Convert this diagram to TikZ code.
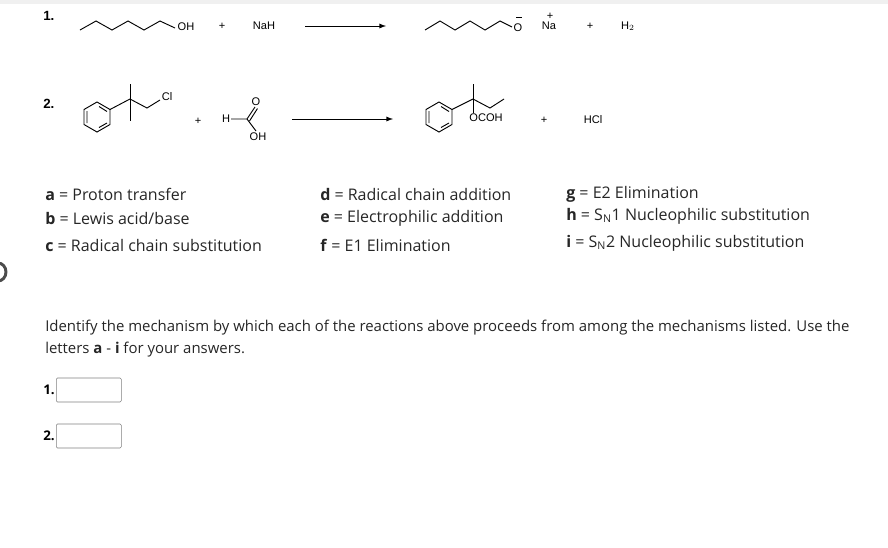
\documentclass[tikz,border=0pt]{standalone}
\usepackage{fontspec}
\setmainfont{Open Sans}
\newfontfamily\chem{Liberation Sans}
\begin{document}
\begin{tikzpicture}[x=0.75pt,y=-0.75pt,
  txt/.style={anchor=west,inner sep=0,font=\fontsize{11.2}{13}\selectfont,text=black!85},
  mech/.style={txt,font=\fontsize{12}{14}\selectfont},
  lab/.style={inner sep=0.5pt,font=\chem\fontsize{8.3}{10}\selectfont},
  num/.style={anchor=west,inner sep=0,font=\chem\bfseries\fontsize{10}{12}\selectfont},
  bond/.style={line width=0.7pt},
  rxn/.style={line width=0.7pt,-latex},
  ansbox/.style={draw=black!50,rounded corners=1pt,minimum width=48.75pt,minimum height=18pt,anchor=west,inner sep=0}]
\useasboundingbox (0,0) rectangle (888,547);
\fill[black!6] (0,0) rectangle (888,4);
\draw[line width=2.2pt,black!70] (-2,281) arc (90:-90:8 and 9);
% reaction 1
\node[num] (n1) at (43,16) {1.};
\draw[bond] (80,30)--(96,21)--(112,30)--(128,21)--(144,30)--(160,21)--(175,28);
\node[lab] (oh1) at (186,27) {OH};
\node[lab] (p1) at (222,26) {+};
\node[lab] (nah) at (264,26) {NaH};
\coordinate (a1s) at (305,26); \coordinate (a1e) at (386,26);
\draw[rxn] (a1s)--(a1e);
\draw[bond] (425,30)--(440,21)--(455,30)--(470,21)--(485,30)--(500,21)--(512,27);
\node[lab] (om) at (518,28) {O};
\draw[line width=0.6pt] (516,17)--(522,17);
\node[lab] (na) at (549,26) {Na};
\node[lab] at (550,16) {+};
\node[lab] (p2) at (590,26) {+};
\node[lab] (h2) at (628,26) {H$_2$};
% reaction 2
\node[num] (n2) at (43,104) {2.};
\draw[bond] (97,102)--(110,109.5)--(110,124.5)--(97,132)--(84,124.5)--(84,109.5)--cycle;
\draw[bond] (99,106.5)--(107,111.5) (107,123)--(99,127.5) (87,111)--(87,123);
\draw[bond] (110,109.5)--(130,99);
\draw[bond] (130,84)--(130,121);
\draw[bond] (130,99)--(147,108)--(160,100);
\node[lab] (cl) at (167,97) {Cl};
\node[lab] (p3) at (198,121) {+};
\node[lab] (h) at (226,119) {H};
\draw[bond] (231,119)--(247,119)--(255,107) (247,119)--(256,131);
\draw[bond] (249.5,121)--(257.5,108.5);
\node[lab] (o2) at (256,102) {O};
\node[lab] (oh2) at (258,137) {OH};
\coordinate (a2s) at (292,119); \coordinate (a2e) at (393,119);
\draw[rxn] (a2s)--(a2e);
\draw[bond] (439,102)--(452,109.5)--(452,124.5)--(439,132)--(426,124.5)--(426,109.5)--cycle;
\draw[bond] (441,106.5)--(449,111.5) (449,123)--(441,127.5) (429,111)--(429,123);
\draw[bond] (452,109.5)--(473,99);
\draw[bond] (473,84)--(473,113);
\draw[bond] (473,99)--(490,108)--(504,99);
\node[lab] (ocoh) at (486,118) {OCOH};
\node[lab] (p4) at (544,120) {+};
\node[lab] (hcl) at (593,120) {HCl};
% mechanisms
\node[mech] (a) at (45,194) {\textbf{a} = Proton transfer};
\node[mech] (b) at (45,218) {\textbf{b} = Lewis acid/base};
\node[mech] (c) at (45,245) {\textbf{c} = Radical chain substitution};
\node[mech] (d) at (320,194) {\textbf{d} = Radical chain addition};
\node[mech] (e) at (320,218) {\textbf{e} = Electrophilic addition};
\node[mech] (f) at (320,245) {\textbf{f} = E1 Elimination};
\node[mech] (g) at (566,194) {\textbf{g} = E2 Elimination};
\node[mech] (hh) at (566,216) {\textbf{h} = S$_\mathrm{N}$1 Nucleophilic substitution};
\node[mech] (i) at (566,243) {\textbf{i} = S$_\mathrm{N}$2 Nucleophilic substitution};
\node[txt] (q1) at (45,328) {Identify the mechanism by which each of the reactions above proceeds from among the mechanisms listed. Use the};
\node[txt] (q2) at (45,350) {letters \textbf{a} - \textbf{i} for your answers.};
\node[num,font=\bfseries\fontsize{10}{12}\selectfont] (l1) at (43,390) {1.};
\node[ansbox] (b1) at (56,390) {};
\node[num,font=\bfseries\fontsize{10}{12}\selectfont] (l2) at (43,436) {2.};
\node[ansbox] (b2) at (56,436) {};
\end{tikzpicture}
\end{document}
